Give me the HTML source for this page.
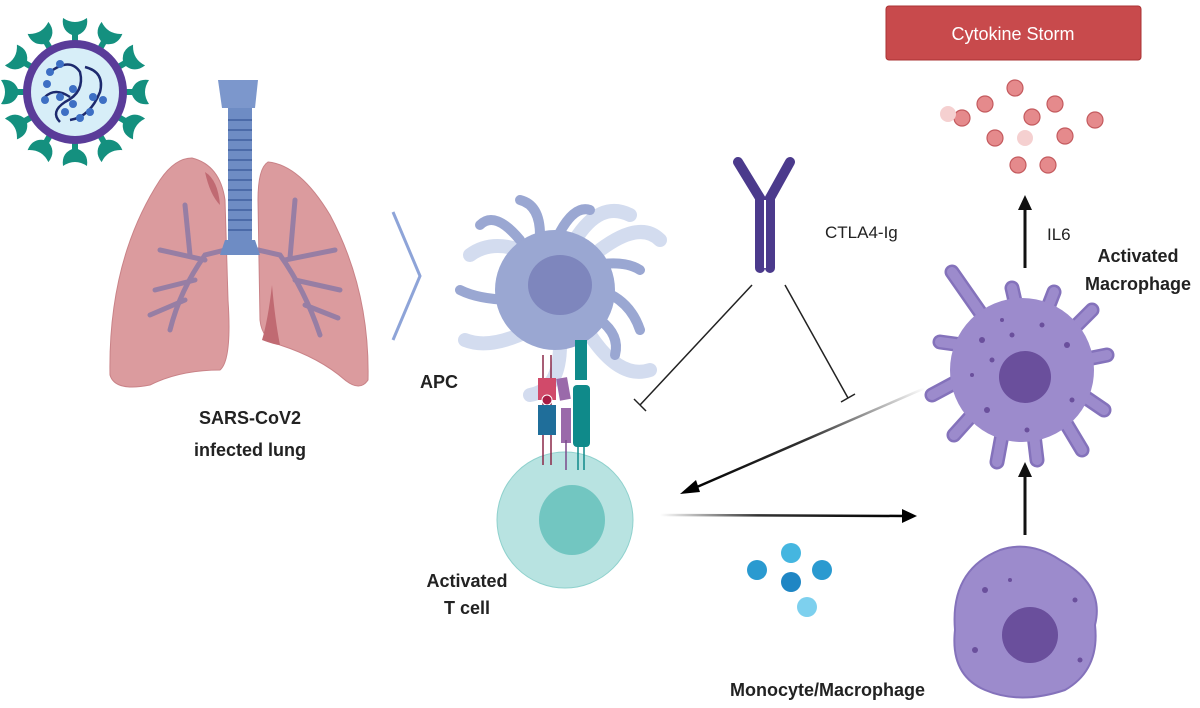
<!DOCTYPE html>
<html><head><meta charset="utf-8"><style>
html,body{margin:0;padding:0;background:#fff;}
svg{display:block;font-family:"Liberation Sans",Arial,sans-serif;}
</style></head><body>
<svg width="1200" height="708" viewBox="0 0 1200 708" xmlns="http://www.w3.org/2000/svg">
<defs>
<linearGradient id="g1" x1="1" y1="0" x2="0" y2="1"><stop offset="0" stop-color="#fff"/><stop offset="0.5" stop-color="#333"/><stop offset="1" stop-color="#000"/></linearGradient>
<linearGradient id="g2" x1="0" y1="0" x2="1" y2="0"><stop offset="0" stop-color="#fff"/><stop offset="0.4" stop-color="#333"/><stop offset="1" stop-color="#000"/></linearGradient>
</defs>

<!-- virus -->
<g transform="translate(75,92)">
<g fill="#14907f">
<g id="sp"><rect x="-3" y="-62" width="6" height="14"/><path d="M-12,-74 Q0,-66 12,-74 Q14,-60 0,-56 Q-14,-60 -12,-74z"/></g>
<use href="#sp" transform="rotate(30)"/><use href="#sp" transform="rotate(60)"/><use href="#sp" transform="rotate(90)"/><use href="#sp" transform="rotate(120)"/><use href="#sp" transform="rotate(150)"/><use href="#sp" transform="rotate(180)"/><use href="#sp" transform="rotate(210)"/><use href="#sp" transform="rotate(240)"/><use href="#sp" transform="rotate(270)"/><use href="#sp" transform="rotate(300)"/><use href="#sp" transform="rotate(330)"/>
</g>
<circle r="52" fill="#5a3c99"/>
<circle r="44" fill="#d7eef8"/>
<g stroke="#1d2a6e" stroke-width="2.5" fill="none"><path d="M-25,-20 Q-5,-35 5,-20 Q10,0 -10,10 Q-25,20 -15,30"/><path d="M10,-25 Q30,-20 25,0 Q15,25 -5,28"/><path d="M-30,5 Q-20,-5 -5,5"/></g>
<g fill="#3d6fc4"><circle cx="-25" cy="-20" r="4"/><circle cx="-15" cy="-28" r="4"/><circle cx="-28" cy="-8" r="4"/><circle cx="-30" cy="8" r="4"/><circle cx="-15" cy="5" r="4"/><circle cx="-10" cy="20" r="4"/><circle cx="5" cy="26" r="4"/><circle cx="15" cy="20" r="4"/><circle cx="18" cy="5" r="4"/><circle cx="28" cy="8" r="4"/><circle cx="-2" cy="12" r="4"/><circle cx="-2" cy="-3" r="4"/></g>
</g>

<!-- lungs -->
<path d="M192,158 Q220,165 225,200 L228,300 Q232,360 220,370 Q180,370 150,385 Q115,392 110,375 Q108,260 160,180 Q175,158 192,158z" fill="#db9b9e" stroke="#c98287" stroke-width="1"/>
<path d="M268,162 Q300,165 330,215 Q370,290 368,380 Q360,392 345,380 Q320,358 280,345 Q262,340 260,320 L258,200 Q258,168 268,162z" fill="#db9b9e" stroke="#c98287" stroke-width="1"/>
<path d="M205,172 Q218,180 220,205 Q210,195 205,172z" fill="#c06a72"/>
<path d="M272,285 Q268,320 262,340 Q275,345 280,345 Q275,320 272,285z" fill="#c06a72"/>
<g stroke="#8c7aa6" stroke-width="5" fill="none" stroke-linecap="round" opacity="0.85">
<path d="M225,250 L205,255 Q180,290 170,330"/><path d="M205,260 L160,250"/><path d="M195,280 L155,290"/><path d="M185,300 L150,315"/><path d="M190,255 L185,205"/>
<path d="M258,250 L280,255 Q305,290 320,335"/><path d="M285,260 L335,250"/><path d="M295,280 L340,290"/><path d="M305,305 L338,318"/><path d="M290,258 L295,200"/>
</g>
<rect x="228" y="95" width="24" height="150" rx="6" fill="#6e8cc4"/>
<g stroke="#4b6aa8" stroke-width="2"><line x1="228" y1="120" x2="252" y2="120"/><line x1="228" y1="130" x2="252" y2="130"/><line x1="228" y1="140" x2="252" y2="140"/><line x1="228" y1="150" x2="252" y2="150"/><line x1="228" y1="160" x2="252" y2="160"/><line x1="228" y1="170" x2="252" y2="170"/><line x1="228" y1="180" x2="252" y2="180"/><line x1="228" y1="190" x2="252" y2="190"/><line x1="228" y1="200" x2="252" y2="200"/><line x1="228" y1="210" x2="252" y2="210"/><line x1="228" y1="220" x2="252" y2="220"/><line x1="228" y1="230" x2="252" y2="230"/></g>
<path d="M218,80 L258,80 L255,108 L222,108z" fill="#7c97cc"/>
<path d="M225,240 L255,240 L260,255 L220,255z" fill="#6e8cc4"/>
<text x="250" y="424" font-size="18" font-weight="bold" text-anchor="middle" fill="#222">SARS-CoV2</text>
<text x="250" y="456" font-size="18" font-weight="bold" text-anchor="middle" fill="#222">infected lung</text>

<!-- chevron -->
<path d="M393,212 L420,276 L393,340" stroke="#8ea4d8" stroke-width="3" fill="none"/>

<!-- APC -->
<g stroke="#d3dcef" stroke-width="14" stroke-linecap="round" fill="none">
<path d="M520,250 Q490,240 470,255"/><path d="M530,330 Q490,350 465,340"/><path d="M560,345 Q560,390 530,395"/><path d="M590,335 Q620,380 650,370"/><path d="M600,250 Q640,220 660,240"/><path d="M575,240 Q600,200 630,215"/>
</g>
<g stroke="#9aa7d2" stroke-width="10" stroke-linecap="round" fill="none">
<path d="M520,240 Q495,210 480,225"/><path d="M515,300 Q480,300 460,290"/><path d="M540,235 Q540,205 520,200"/><path d="M560,232 Q575,205 590,210"/><path d="M600,290 Q630,300 640,330"/><path d="M600,320 Q620,335 615,355"/><path d="M595,265 Q625,260 640,270"/>
</g>
<circle cx="555" cy="290" r="60" fill="#9aa7d2"/>
<ellipse cx="560" cy="285" rx="32" ry="30" fill="#7e86bd"/>
<text x="420" y="388" font-size="18" font-weight="bold" fill="#222">APC</text>

<!-- T cell -->
<circle cx="565" cy="520" r="68" fill="#b8e3e1" stroke="#8fd1cd" stroke-width="1"/>
<ellipse cx="572" cy="520" rx="33" ry="35" fill="#72c6c1"/>
<g>
<line x1="543" y1="355" x2="543" y2="465" stroke="#8a2848" stroke-width="1.5"/><line x1="551" y1="355" x2="551" y2="465" stroke="#8a2848" stroke-width="1.5"/>
<rect x="538" y="378" width="18" height="22" fill="#d14a6a"/>
<circle cx="547" cy="400" r="5" fill="#a81d45" stroke="#fff"/>
<rect x="538" y="405" width="18" height="30" fill="#1f6e9a"/>
<rect x="558" y="378" width="11" height="22" fill="#9a6aaa" transform="rotate(-10 563 389)"/>
<rect x="561" y="408" width="10" height="35" fill="#9a6aaa"/><line x1="566" y1="440" x2="566" y2="470" stroke="#7a4a8a" stroke-width="1.5"/>
<rect x="575" y="340" width="12" height="40" fill="#0f8a8a"/>
<rect x="573" y="385" width="17" height="62" rx="4" fill="#0f8a8a"/>
<line x1="578" y1="440" x2="578" y2="470" stroke="#0f8a8a" stroke-width="1.5"/><line x1="584" y1="440" x2="584" y2="470" stroke="#0f8a8a" stroke-width="1.5"/>
</g>
<text x="467" y="587" font-size="18" font-weight="bold" text-anchor="middle" fill="#222">Activated</text>
<text x="467" y="614" font-size="18" font-weight="bold" text-anchor="middle" fill="#222">T cell</text>

<!-- antibody -->
<g stroke="#4b3a8c" stroke-linecap="round" fill="none">
<path d="M738,162 L760,198 L760,268" stroke-width="10"/>
<path d="M790,162 L770,198 L770,268" stroke-width="10"/>
</g>
<line x1="765" y1="200" x2="765" y2="268" stroke="#fff" stroke-width="2"/>
<text x="825" y="238" font-size="17" fill="#222">CTLA4-Ig</text>
<g stroke="#222" stroke-width="1.5"><line x1="752" y1="285" x2="640" y2="405"/><line x1="634" y1="399" x2="646" y2="411"/><line x1="785" y1="285" x2="848" y2="398"/><line x1="841" y1="402" x2="855" y2="394"/></g>

<!-- arrows -->
<line x1="925" y1="388" x2="690" y2="490" stroke="url(#g1)" stroke-width="2.5"/>
<path d="M680,494 L696,480 L700,492z" fill="#000"/>
<line x1="660" y1="515" x2="905" y2="516" stroke="url(#g2)" stroke-width="2.5"/>
<path d="M917,516 L902,509 L902,523z" fill="#000"/>
<line x1="1025" y1="535" x2="1025" y2="475" stroke="#111" stroke-width="3"/><path d="M1025,462 L1018,477 L1032,477z" fill="#111"/>
<line x1="1025" y1="268" x2="1025" y2="208" stroke="#111" stroke-width="3"/><path d="M1025,195 L1018,210 L1032,210z" fill="#111"/>

<!-- monocytes dots -->
<circle cx="757" cy="570" r="10" fill="#2a9ad0"/><circle cx="791" cy="553" r="10" fill="#45b6e0"/><circle cx="791" cy="582" r="10" fill="#1f86c4"/><circle cx="822" cy="570" r="10" fill="#2a9ad0"/><circle cx="807" cy="607" r="10" fill="#7dd0ee"/>

<!-- activated macrophage -->
<g transform="translate(1022,370)">
<g stroke="#8472bb" stroke-width="15" stroke-linecap="round" fill="none">
<path d="M-40,-55 L-70,-98"/><path d="M-5,-60 L-10,-82"/><path d="M25,-60 L32,-78"/><path d="M50,-40 L70,-60"/><path d="M60,-10 L85,-15"/><path d="M60,25 L82,40"/><path d="M45,55 L60,80"/><path d="M12,65 L15,90"/><path d="M-20,65 L-25,92"/><path d="M-50,45 L-68,65"/><path d="M-62,10 L-90,25"/><path d="M-60,-25 L-82,-28"/>
</g>
<g stroke="#9c8bcc" stroke-width="10" stroke-linecap="round" fill="none">
<path d="M-40,-55 L-70,-98"/><path d="M-5,-60 L-10,-82"/><path d="M25,-60 L32,-78"/><path d="M50,-40 L70,-60"/><path d="M60,-10 L85,-15"/><path d="M60,25 L82,40"/><path d="M45,55 L60,80"/><path d="M12,65 L15,90"/><path d="M-20,65 L-25,92"/><path d="M-50,45 L-68,65"/><path d="M-62,10 L-90,25"/><path d="M-60,-25 L-82,-28"/>
</g>
<circle r="72" fill="#9c8bcc"/>
<circle cx="3" cy="7" r="26" fill="#6a4f9c"/>
<g fill="#6a4f9c"><circle cx="-40" cy="-30" r="3"/><circle cx="45" cy="-25" r="3"/><circle cx="-35" cy="40" r="3"/><circle cx="50" cy="30" r="2.5"/><circle cx="-20" cy="-50" r="2"/><circle cx="20" cy="-45" r="2.5"/><circle cx="-50" cy="5" r="2"/><circle cx="5" cy="60" r="2.5"/><circle cx="-10" cy="-35" r="2.5"/><circle cx="-30" cy="-10" r="2.5"/></g>
</g>
<text x="1138" y="262" font-size="18" font-weight="bold" text-anchor="middle" fill="#222">Activated</text>
<text x="1138" y="290" font-size="18" font-weight="bold" text-anchor="middle" fill="#222">Macrophage</text>
<text x="1047" y="240" font-size="17" fill="#222">IL6</text>

<!-- monocyte/macrophage -->
<path d="M1000,550 Q1030,540 1060,560 Q1105,585 1095,625 Q1100,670 1065,690 Q1020,705 985,690 Q950,675 955,630 Q950,570 1000,550z" fill="#9c8bcc" stroke="#8472bb" stroke-width="2"/>
<circle cx="1030" cy="635" r="28" fill="#6a4f9c"/>
<g fill="#6a4f9c"><circle cx="985" cy="590" r="3"/><circle cx="1075" cy="600" r="2.5"/><circle cx="975" cy="650" r="3"/><circle cx="1080" cy="660" r="2.5"/><circle cx="1010" cy="580" r="2"/></g>
<text x="730" y="696" font-size="18" font-weight="bold" fill="#222">Monocyte/Macrophage</text>

<!-- cytokine storm -->
<rect x="886" y="6" width="255" height="54" rx="3" fill="#c84a4c" stroke="#a33" stroke-width="1"/>
<text x="1013" y="40" font-size="18" fill="#fff" text-anchor="middle">Cytokine Storm</text>
<g fill="#e58a8c" stroke="#c45a5e" stroke-width="1.2">
<circle cx="1015" cy="88" r="8"/><circle cx="985" cy="104" r="8"/><circle cx="1055" cy="104" r="8"/><circle cx="962" cy="118" r="8"/><circle cx="1095" cy="120" r="8"/><circle cx="1032" cy="117" r="8"/><circle cx="995" cy="138" r="8"/><circle cx="1065" cy="136" r="8"/><circle cx="1018" cy="165" r="8"/><circle cx="1048" cy="165" r="8"/>
</g>
<circle cx="948" cy="114" r="8" fill="#f5d0d0"/><circle cx="1025" cy="138" r="8" fill="#f5d0d0"/>
</svg>
</body></html>
